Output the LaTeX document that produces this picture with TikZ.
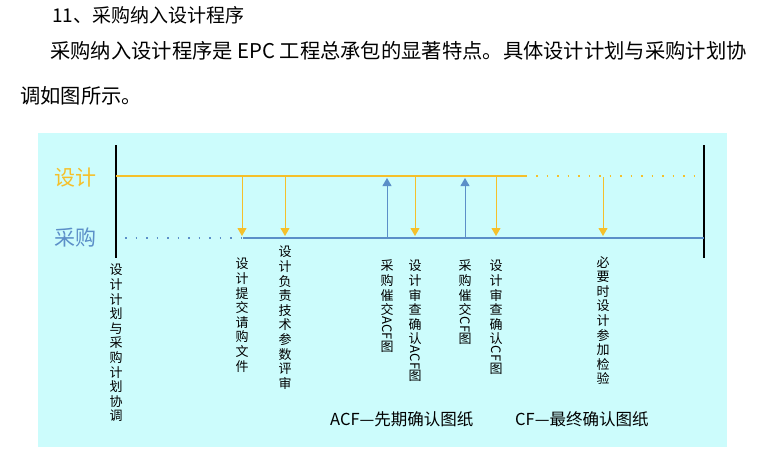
\documentclass[tikz,border=0pt]{standalone}
\usepackage{fontspec}
\usepackage{graphicx}
\setmainfont{Liberation Serif}
\newfontfamily\cjk{Noto Sans CJK SC}
\usetikzlibrary{arrows.meta}
\definecolor{bgc}{HTML}{CCFCFC}
\definecolor{ylw}{HTML}{F5C02A}
\definecolor{blu}{HTML}{5B8FC8}
\newcommand{\acf}{\rotatebox[origin=c]{-90}{ACF}}
\newcommand{\cfr}{\rotatebox[origin=c]{-90}{CF}}
\begin{document}
\begin{tikzpicture}[x=1pt,y=-1pt,
  vt/.style={anchor=north,align=center,inner sep=0pt,font=\cjk\fontsize{13}{14.6}\selectfont},
  ya/.style={draw=ylw,line width=1pt,-{Triangle[length=8pt,width=9pt]}},
  ba/.style={draw=blu,line width=1pt,-{Triangle[length=8pt,width=9pt]}},
  txt/.style={anchor=base west,inner sep=0pt,font=\cjk\fontsize{20.3}{22}\selectfont}]
\useasboundingbox (0,0) rectangle (760,453);
\fill[white] (0,0) rectangle (760,453);
\node[txt,font=\cjk\fontsize{19}{22}\selectfont] (t1) at (52,22) {11、采购纳入设计程序};
\node[txt] (t2) at (50,58) {采购纳入设计程序是 EPC 工程总承包的显著特点。具体设计计划与采购计划协};
\node[txt] (t3) at (20,103) {调如图所示。};
\fill[bgc] (38,133) rectangle (727,447);
\coordinate (L1) at (116,145); \coordinate (L2) at (116,258);
\coordinate (R1) at (704,145); \coordinate (R2) at (704,258);
\draw[line width=1.3pt] (L1) -- (L2);
\draw[line width=1.3pt] (R1) -- (R2);
\coordinate (y0) at (116,176); \coordinate (y1) at (527,176); \coordinate (y2) at (704,176);
\draw[ylw,line width=2.4pt] (y0) -- (y1);
\draw[ylw,line width=1.5pt,dash pattern=on 1.5pt off 9pt] (y1) ++(9,0) -- (y2);
\coordinate (b0) at (116,238); \coordinate (b1) at (243,238); \coordinate (b2) at (704,238);
\draw[blu,line width=1.5pt,dash pattern=on 1.5pt off 9pt] (b0) ++(9,0) -- (b1);
\draw[blu,line width=2.4pt] (b1) -- (b2);
\node[font=\cjk\fontsize{21}{22}\selectfont,text=ylw] (sj) at (75,178) {设计};
\node[font=\cjk\fontsize{21}{22}\selectfont,text=blu] (cg) at (75,238) {采购};
\foreach \x in {242,285,415,496,603} {\draw[ya] (\x,177) -- (\x,236);}
\foreach \x in {387,465} {\draw[ba] (\x,237) -- (\x,178);}
\node[vt] (v1) at (116,264) {设\\计\\计\\划\\与\\采\\购\\计\\划\\协\\调};
\node[vt] (v2) at (242,258) {设\\计\\提\\交\\请\\购\\文\\件};
\node[vt] (v3) at (285,246) {设\\计\\负\\责\\技\\术\\参\\数\\评\\审};
\node[vt] (v4) at (387,260) {采\\购\\催\\交\\\acf\\图};
\node[vt] (v5) at (415,260) {设\\计\\审\\查\\确\\认\\\acf\\图};
\node[vt] (v6) at (465,260) {采\\购\\催\\交\\\cfr\\图};
\node[vt] (v7) at (496,260) {设\\计\\审\\查\\确\\认\\\cfr\\图};
\node[vt] (v8) at (603,256) {必\\要\\时\\设\\计\\参\\加\\检\\验};
\node[anchor=base west,inner sep=0pt,font=\cjk\fontsize{16.5}{18}\selectfont] (k1) at (330,425) {ACF—先期确认图纸};
\node[anchor=base west,inner sep=0pt,font=\cjk\fontsize{16.5}{18}\selectfont] (k2) at (515,425) {CF—最终确认图纸};
\end{tikzpicture}
\end{document}
